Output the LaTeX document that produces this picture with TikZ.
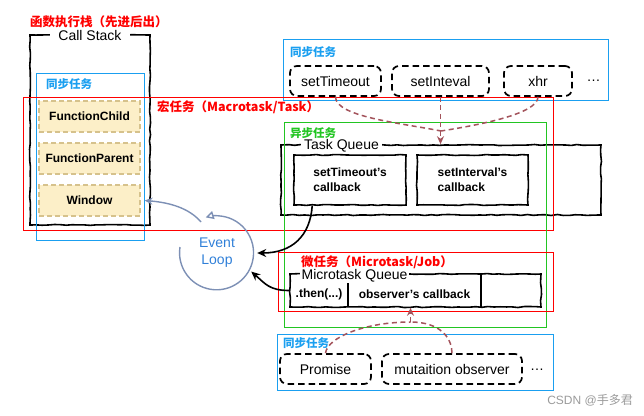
\documentclass[tikz,border=0pt]{standalone}
\usepackage{fontspec}
\setmainfont{Liberation Sans}
\newfontfamily\cjk{Noto Sans CJK SC}
\usetikzlibrary{arrows.meta, decorations.pathmorphing}
\definecolor{cred}{HTML}{FF0000}
\definecolor{cblue}{HTML}{1A9FF0}
\definecolor{cgreen}{HTML}{22C522}
\definecolor{corange}{HTML}{FCEFC8}
\definecolor{ctan}{HTML}{D6C28C}
\definecolor{cmaroon}{HTML}{A3535B}
\definecolor{cloop}{HTML}{7D90B5}
\definecolor{cloopt}{HTML}{2F7FD8}
\definecolor{cwm}{HTML}{9A9A9A}
\pgfmathsetseed{7}
\tikzset{
  rbox/.style={draw=cred, line width=0.9pt, rectangle, inner sep=0pt},
  bbox/.style={draw=cblue, line width=0.9pt, rectangle, inner sep=0pt},
  gbox/.style={draw=cgreen, line width=0.9pt, rectangle, inner sep=0pt},
  sketchbox/.style={draw=black, line width=1.6pt, rectangle, inner sep=0pt,
    decorate, decoration={random steps, segment length=6pt, amplitude=0.5pt}},
  sketchline/.style={draw=black, line width=1.6pt},
  flabel/.style={fill=white, inner xsep=3pt, inner ysep=1pt, font=\fontsize{14}{16}\selectfont},
  fbox/.style={rectangle, fill=corange, draw=ctan, line width=1.2pt, dash pattern=on 5pt off 3pt,
    minimum width=101pt, minimum height=31pt, inner sep=0pt, font=\bfseries\fontsize{12}{14}\selectfont},
  dbox/.style={rectangle, rounded corners=7pt, draw=black, line width=1.7pt, dash pattern=on 6.5pt off 4pt,
    minimum height=30pt, inner sep=0pt, font=\fontsize{14}{16}\selectfont},
  cbbox/.style={sketchbox, align=left, font=\bfseries\fontsize{12}{15}\selectfont},
  cell/.style={rectangle, inner sep=0pt, minimum height=26pt, font=\bfseries\fontsize{12}{14}\selectfont},
  redt/.style={inner sep=0pt, text=cred, font=\cjk\bfseries\fontsize{12.5}{14}\selectfont},
  bluet/.style={inner sep=0pt, text=cblue, font=\cjk\bfseries\fontsize{11.5}{13}\selectfont},
  greent/.style={inner sep=0pt, text=cgreen, font=\cjk\bfseries\fontsize{11.5}{13}\selectfont},
  txt/.style={inner sep=0pt, font=\fontsize{14}{16}\selectfont},
  looptext/.style={circle, minimum size=74pt, inner sep=0pt, align=center, text=cloopt, font=\fontsize{14}{17}\selectfont},
  loopline/.style={draw=cloop, line width=1.4pt},
  barrow/.style={draw=black, line width=1.6pt, -{Stealth[length=9pt,width=8pt]}},
  marrow/.style={draw=cmaroon, line width=1.5pt, dash pattern=on 5pt off 3.5pt},
  wm/.style={inner sep=0pt, text=cwm, font=\fontsize{12}{14}\selectfont}
}
\begin{document}
\begin{tikzpicture}[x=1pt,y=-1pt]
\useasboundingbox (0,0) rectangle (644,415);

% Call stack
\node[sketchbox, minimum width=120pt, minimum height=190pt] (cs) at (90,130) {};
\node[flabel, inner xsep=8pt] (csl) at (90,35.5) {Call Stack};
\node[redt, anchor=west] (t1) at (30,22) {函数执行栈（先进后出）};

\node[fbox] (fc) at (89.5,116.5) {FunctionChild};
\node[fbox] (fp) at (89.5,158.5) {FunctionParent};
\node[fbox] (fw) at (89.5,200.5) {Window};

% Task queue
\node[sketchbox, minimum width=320pt, minimum height=70pt] (tq) at (441,180) {};
\node[flabel] (tql) at (341.5,146) {Task Queue};
\node[cbbox, minimum width=112pt, minimum height=50pt] (stcb) at (350,180) {setTimeout's\\callback};
\node[cbbox, minimum width=111pt, minimum height=50pt] (sicb) at (472.5,180) {setInterval's\\callback};

% Microtask queue
\node[sketchbox, minimum width=251pt, minimum height=33pt] (mq) at (415.5,290.5) {};
\node[cell, minimum width=58pt] (then) at (319,294) {.then(...)};
\node[cell, minimum width=133pt] (obs) at (414.5,294) {observer's callback};
\node[cell, minimum width=60pt] (emp) at (511,294) {};
\draw[sketchline] (then.south east) -- (then.south east |- mq.north);
\draw[sketchline] (obs.south east) -- (obs.south east |- mq.north);
\node[flabel, inner xsep=2pt] (mql) at (354.5,275.5) {Microtask Queue};

% top sync
\node[bbox, minimum width=325pt, minimum height=61pt] (st) at (445.5,69.5) {};
\node[bluet, anchor=west] (stl) at (290,52) {同步任务};
\node[dbox, minimum width=91pt] (stt) at (335.5,81) {setTimeout};
\node[dbox, minimum width=97pt] (sint) at (440.5,81) {setInteval};
\node[dbox, minimum width=68pt] (xhr) at (538,81) {xhr};
\node[txt] (dots1) at (593.5,81) {…};

% bottom sync
\node[bbox, minimum width=276pt, minimum height=56pt] (sb) at (415,362) {};
\node[bluet, anchor=west] (sbl) at (283,343) {同步任务};
\node[dbox, minimum width=91pt] (prom) at (325.5,369) {Promise};
\node[dbox, minimum width=140pt] (mut) at (452,369) {mutaition observer};
\node[txt] (dots2) at (537,369.5) {…};

% left sync
\node[bbox, minimum width=108pt, minimum height=167pt] (sl) at (90,156.5) {};
\node[bluet, anchor=west] (sll) at (46,84) {同步任务};

% macro
\node[rbox, minimum width=530pt, minimum height=133pt] (mac) at (288,163.5) {};
\node[redt, anchor=west] (macl) at (157,107) {宏任务（Macrotask/Task）};

% async green
\node[gbox, minimum width=262pt, minimum height=205pt] (asy) at (415,224.5) {};
\node[greent, anchor=west] (asyl) at (290,133) {异步任务};

% micro
\node[rbox, minimum width=275pt, minimum height=59pt] (mic) at (415.5,281.5) {};
\node[redt, anchor=west] (micl) at (301,262) {微任务（Microtask/Job）};

% event loop
\node[looptext] (loop) at (217,253) {Event\\Loop};
\draw[loopline, -{Triangle[open, length=8pt, width=8pt]}] (180,247) arc[start angle=189, end angle=-107, radius=37];
\coordinate (ls) at (201,222);
\draw[loopline, -{Stealth[length=8pt,width=7pt]}] (ls) .. controls +(-12,-14) and +(25,2) .. ([xshift=4pt]fw.east);

% black arrows
\draw[barrow] ([xshift=19pt]stcb.south west) .. controls +(-2,30) and +(35,0) .. ([xshift=3pt]loop.east);
\draw[barrow] (mq.west) .. controls +(-20,0) and +(14,12) .. ([xshift=2pt]loop.-30);

% maroon arrows top
\coordinate (mt) at (441,131);
\draw[marrow] (stt.south) .. controls +(0,20) and +(-40,-8) .. (mt);
\draw[marrow] (xhr.south) .. controls +(0,17) and +(38,-6) .. (mt);
\draw[marrow, -{Stealth[length=8pt,width=7pt]}] (sint.south) -- (sint.south |- tq.north);

% maroon arrows bottom
\coordinate (mb) at (410.5,322);
\draw[marrow] (prom.north) .. controls +(2,-16) and +(-45,0) .. (mb);
\draw[marrow] (mut.north) .. controls +(0,-15) and +(30,0) .. (mb);
\draw[marrow, -{Stealth[length=8pt,width=7pt]}] (mb) -- (mb |- mq.south);

% watermark
\node[wm] (wmk) at (590,400) {CSDN @{\cjk 手多君}};
\end{tikzpicture}
\end{document}
